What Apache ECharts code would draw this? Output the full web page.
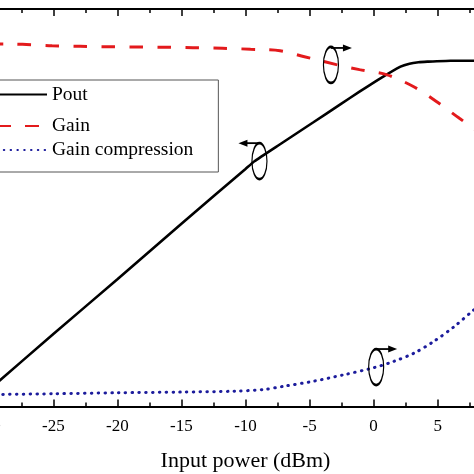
<!DOCTYPE html>
<html>
<head>
<meta charset="utf-8">
<script src="https://cdn.jsdelivr.net/npm/echarts@6/dist/echarts.min.js"></script>
<style>html,body{margin:0;padding:0;background:#fff}#c{width:474px;height:474px}</style>
</head>
<body>
<div id="c"></div>
<script>
// X axis ticks (dBm)
const xTicksMin = -30, xTicksMax = 10, xTickStep = 5;

// Pout (left axis, dBm)
const pinPout = [-30, -25, -20, -15, -10, -9.3, -7.3, -4.7, -2.6, -1.1, 0.5, 2.1, 2.8, 3.5, 4.2, 6.0, 8];
const pout    = [-18.3, -12.7, -7.2, -1.6, 3.9, 4.68, 6.39, 8.6, 10.4, 11.68, 13.0, 14.2, 14.5, 14.64, 14.7, 14.8, 14.8];

// Gain (right axis, dB)
const pinGain = [-30, -27.4, -25.1, -22.9, -20.7, -18.5, -16.3, -14.1, -11.8, -9.6, -7.3, -5.4, -2.9, -1.1, 1.0, 3.1, 4.9, 6.7, 8];
const gain    = [11.5, 11.45, 11.3, 11.25, 11.2, 11.18, 11.15, 11.1, 11.05, 10.95, 10.8, 10.2, 9.4, 8.9, 8.4, 7.2, 5.7, 4.0, 2.8];

// Gain compression (right axis, dB)
const pinComp = [-30, -25, -20, -15, -10.9, -8.6, -7.0, -4.7, -2.3, 0, 1.6, 3.2, 4.7, 6.3, 7.8, 8];
const comp    = [0, 0.08, 0.18, 0.25, 0.34, 0.51, 0.84, 1.34, 2.0, 2.7, 3.35, 4.2, 5.35, 6.85, 8.5, 8.7];

const seriesNames = ['Pout', 'Gain', 'Gain compression'];

// Annotations (ellipse centred on curve, arrow towards its axis)
const annPout = [-8.91, 4.69];
const annGain = [-3.33, 9.37];
const annComp = [0.2, 2.77];

const FONT = 'Liberation Serif, Times New Roman, serif';
const ELLIPSE = 'path://M0,-1 C0.552,-1 1,-0.552 1,0 C1,0.552 0.552,1 0,1 C-0.552,1 -1,0.552 -1,0 C-1,-0.552 -0.552,-1 0,-1 Z';

function annotation(coord, dir, dy) {
  const s = dir; // +1 right, -1 left
  return [
    { coord: coord, symbol: ELLIPSE, symbolSize: [15, 36],
      itemStyle: { color: 'rgba(0,0,0,0)', borderColor: '#000', borderWidth: 1.8 } },
    { coord: coord, symbol: 'rect', symbolSize: [14, 1.8], symbolOffset: [s * 7, dy],
      itemStyle: { color: '#000', borderWidth: 0 } },
    { coord: coord, symbol: 'triangle', symbolSize: [7, 9], symbolRotate: s > 0 ? -90 : 90,
      symbolOffset: [s * 16.5, dy], itemStyle: { color: '#000', borderWidth: 0 } }
  ];
}
function markPoint(items) {
  return { silent: true, animation: false, label: { show: false }, data: items };
}

const chart = echarts.init(document.getElementById('c'), null, { renderer: 'canvas' });

const xCommon = {
  type: 'value', min: xTicksMin, max: xTicksMax, interval: xTickStep,
  axisLine: { show: true, onZero: false, lineStyle: { color: '#000', width: 2 } },
  axisTick: { show: true, inside: true, length: 7, lineStyle: { color: '#000', width: 1.5 } },
  minorTick: { show: true, splitNumber: 2, length: 4, lineStyle: { color: '#000', width: 1.5 } },
  splitLine: { show: false }, minorSplitLine: { show: false }
};

const legendText = { fontFamily: FONT, fontSize: 19.5, color: '#000', lineHeight: 20 };
const legendItemStyle = { color: 'rgba(0,0,0,0)', borderColor: 'rgba(0,0,0,0)', borderWidth: 0, opacity: 0 };

chart.setOption({
  animation: false,
  backgroundColor: '#fff',
  grid: { left: -10.7, right: -27.7, top: 9, bottom: 67.5, containLabel: false, outerBoundsMode: 'none' },
  xAxis: [
    Object.assign({}, xCommon, {
      position: 'bottom',
      name: 'Input power (dBm)', nameLocation: 'middle', nameGap: 44,
      nameTextStyle: { fontFamily: FONT, fontSize: 22, color: '#000' },
      axisLabel: { show: true, margin: 12, fontFamily: FONT, fontSize: 17, color: '#000', showMinLabel: true, showMaxLabel: true }
    }),
    Object.assign({}, xCommon, {
      position: 'top',
      axisLabel: { show: false }
    })
  ],
  yAxis: [
    { type: 'value', min: -20, max: 20, show: false, splitLine: { show: false } },
    { type: 'value', min: -25, max: 15, show: false, position: 'right', splitLine: { show: false } },
    { type: 'value', min: -1.2, max: 38.8, show: false, position: 'right', splitLine: { show: false } }
  ],
  legend: [
    { data: [seriesNames[0]], left: -4, top: 84.5, padding: 0, itemWidth: 50, itemHeight: 14,
      itemStyle: legendItemStyle, textStyle: legendText, selectedMode: false },
    { data: [seriesNames[1]], left: -4, top: 116, padding: 0, itemWidth: 50, itemHeight: 14,
      itemStyle: legendItemStyle, textStyle: legendText, selectedMode: false },
    { data: [seriesNames[2]], left: -8, top: 80, padding: [60, 25, 12, 4], itemWidth: 50, itemHeight: 14,
      borderColor: '#555', borderWidth: 1, borderRadius: 0, backgroundColor: 'transparent',
      itemStyle: legendItemStyle, textStyle: legendText, selectedMode: false }
  ],
  series: [
    {
      name: seriesNames[0], type: 'line', xAxisIndex: 0, yAxisIndex: 0,
      data: pinPout.map((x, i) => [x, pout[i]]),
      symbol: 'none', showSymbol: false, smooth: 0.15, clip: true,
      lineStyle: { color: '#000', width: 2.6, type: 'solid' }, itemStyle: { color: '#000' },
      markPoint: markPoint(annotation(annPout, -1, -18))
    },
    {
      name: seriesNames[1], type: 'line', xAxisIndex: 0, yAxisIndex: 1,
      data: pinGain.map((x, i) => [x, gain[i]]),
      symbol: 'none', showSymbol: false, smooth: 0.3, clip: true,
      lineStyle: { color: '#e31a1c', width: 3, type: [14, 14] }, itemStyle: { color: '#e31a1c' },
      markPoint: markPoint(annotation(annGain, 1, -17))
    },
    {
      name: seriesNames[2], type: 'line', xAxisIndex: 0, yAxisIndex: 2,
      data: pinComp.map((x, i) => [x, comp[i]]),
      symbol: 'none', showSymbol: false, smooth: 0.3, clip: true,
      lineStyle: { color: '#1c1c9c', width: 3, type: [0.5, 6.3], cap: 'round' }, itemStyle: { color: '#1c1c9c' },
      markPoint: markPoint(annotation(annComp, 1, -18))
    }
  ]
});
</script>
</body>
</html>
